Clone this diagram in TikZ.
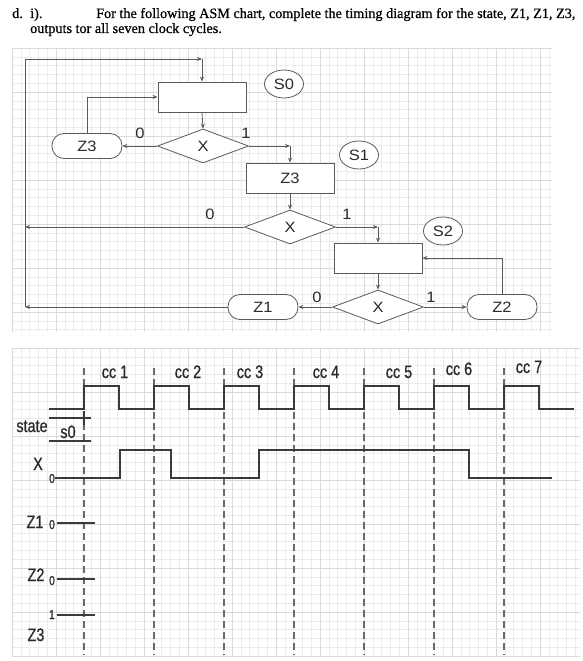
\documentclass[tikz,border=0pt]{standalone}
\usepackage{fontspec}
\setmainfont{Liberation Serif}
\newfontfamily\topfont[FakeBold=0.6]{Liberation Serif}
\newfontfamily\asmfont[FakeStretch=1.1]{Liberation Sans}
\newfontfamily\narrowfont[FakeStretch=0.8,FakeBold=0.8]{Liberation Sans}
\usetikzlibrary{shapes.geometric,arrows.meta}
\definecolor{asmgray}{HTML}{5A5A5A}
\definecolor{txt}{HTML}{2A2A2A}
\definecolor{wavec}{HTML}{3A3A3A}
\definecolor{dashc}{HTML}{6A6A6A}
\definecolor{gridminor}{HTML}{EBEBEB}
\definecolor{gridmajor}{HTML}{DADADA}
\begin{document}
\begin{tikzpicture}[x=1pt,y=-1pt,
  asmline/.style={draw=asmgray, line width=0.8pt},
  arr/.style={asmline, -{Stealth[length=5pt,width=4pt]}},
  asmtext/.style={font=\asmfont\fontsize{15}{15}\selectfont, text=txt},
  stbox/.style={draw=asmgray, line width=0.8pt, fill=white, minimum width=88pt, minimum height=30pt, inner sep=0pt, asmtext},
  dia/.style={diamond, draw=asmgray, line width=0.8pt, fill=white, minimum width=91pt, minimum height=34pt, inner sep=0pt, asmtext},
  oval/.style={draw=asmgray, line width=0.8pt, fill=white, rounded corners=12pt, minimum width=70pt, minimum height=25pt, inner sep=0pt, asmtext},
  slabel/.style={ellipse, draw=asmgray, line width=0.8pt, fill=white, minimum width=39pt, minimum height=28pt, inner sep=0pt, asmtext},
  branch/.style={inner sep=0pt, asmtext},
  wave/.style={draw=wavec, line width=1.4pt},
  clkdash/.style={draw=dashc, line width=1.2pt, dash pattern=on 7pt off 4pt},
  tlabel/.style={inner sep=0pt, anchor=base, text=txt, font=\narrowfont\fontsize{18}{18}\selectfont},
  tsmall/.style={inner sep=0pt, anchor=base, text=txt, font=\narrowfont\fontsize{13}{13}\selectfont},
  toptext/.style={inner sep=0pt, anchor=base west, text=black, font=\topfont\fontsize{14.2}{16}\selectfont}
]
\useasboundingbox (0,0) rectangle (582,661);
\fill[white] (0,0) rectangle (582,661);

% ---------- grids ----------
\foreach \i in {0,...,61} { \draw[gridminor, line width=0.5pt] ({12+8.8*\i},48) -- ({12+8.8*\i},332); }
\foreach \j in {0,...,32} { \draw[gridminor, line width=0.5pt] (12,{48+8.8*\j}) -- (552,{48+8.8*\j}); }
\foreach \i in {0,...,12} { \draw[gridmajor, line width=0.6pt] ({12+44*\i},48) -- ({12+44*\i},332); }
\foreach \j in {0,...,6} { \draw[gridmajor, line width=0.6pt] (12,{48+44*\j}) -- (552,{48+44*\j}); }

\foreach \i in {0,...,64} { \draw[gridminor, line width=0.5pt] ({12+8.8*\i},348) -- ({12+8.8*\i},657); }
\foreach \j in {0,...,35} { \draw[gridminor, line width=0.5pt] (12,{348+8.8*\j}) -- (580,{348+8.8*\j}); }
\foreach \i in {0,...,12} { \draw[gridmajor, line width=0.6pt] ({12+44*\i},348) -- ({12+44*\i},657); }
\foreach \j in {0,...,7} { \draw[gridmajor, line width=0.6pt] (12,{348+44*\j}) -- (580,{348+44*\j}); }

% ---------- top text ----------
\node[toptext] (ta) at (12,18) {d.};
\node[toptext] (tb) at (30,18) {i).};
\node[toptext] (tc) at (96,18) {For the following ASM chart, complete the timing diagram for the state, Z1, Z1, Z3,};
\node[toptext] (td) at (30,33) {outputs tor all seven clock cycles.};

% ---------- ASM chart ----------
\node[stbox] (s0) at (202,97) {};
\node[slabel] (l0) at (284,84) {S0};
\node[dia] (d1) at (203,146) {X};
\node[oval] (z3a) at (87,146) {Z3};
\node[stbox] (z3b) at (290,178) {Z3};
\node[slabel] (l1) at (359,155) {S1};
\node[dia] (d2) at (290,227) {X};
\node[stbox] (s2) at (378,258) {};
\node[slabel] (l2) at (443,231) {S2};
\node[dia] (d3) at (378,307) {X};
\node[oval] (z1) at (263,307) {Z1};
\node[oval] (z2) at (502,307) {Z2};

\node[branch] (b10) at (140,133) {0};
\node[branch] (b11) at (246,133) {1};
\node[branch] (b20) at (210,214) {0};
\node[branch] (b21) at (347,214) {1};
\node[branch] (b30) at (317,297) {0};
\node[branch] (b31) at (431,297) {1};

\coordinate (ltop) at (25,59);
\coordinate (lmid) at (25,227);
\coordinate (lbot) at (25,307);
\coordinate (c0) at (ltop -| s0.north);
\coordinate (c1) at (d1.east -| z3b.north);
\coordinate (c2) at (d2.east -| s2.north);

\draw[arr] (s0.south) -- (d1.north);
\draw[arr] (d1.west) -- (z3a.east);
\draw[arr] (z3a.north) |- (s0.west);
\draw[arr] (d1.east) -- (c1);
\draw[arr] (c1) -- (z3b.north);
\draw[arr] (z3b.south) -- (d2.north);
\draw[arr] (d2.west) -- (lmid);
\draw[arr] (d2.east) -- (c2);
\draw[arr] (c2) -- (s2.north);
\draw[arr] (s2.south) -- (d3.north);
\draw[arr] (d3.west) -- (z1.east);
\draw[arr] (z1.west) -- (lbot);
\draw[arr] (d3.east) -- (z2.west);
\draw[arr] (z2.north) |- (s2.east);
\draw[arr] (lbot) -- (ltop) -- (c0);
\draw[arr] (c0) -- (s0.north);

% ---------- timing diagram ----------
\foreach \x in {84,154,224,294,364,434,504} { \draw[clkdash] (\x,368) -- (\x,655); }

\draw[wave] (49,409) -- (84,409)
  \foreach \k in {0,...,6} { -- ({84+70*\k},386) -- ({119+70*\k},386) -- ({119+70*\k},409) -- ({154+70*\k},409) };

\node[tlabel] (cc1) at (115,378) {cc 1};
\node[tlabel] (cc2) at (188,378) {cc 2};
\node[tlabel] (cc3) at (250,378) {cc 3};
\node[tlabel] (cc4) at (326,378) {cc 4};
\node[tlabel] (cc5) at (399,378) {cc 5};
\node[tlabel] (cc6) at (459,375) {cc 6};
\node[tlabel] (cc7) at (529,373) {cc 7};

\node[tlabel] (st) at (32,432) {state};
\draw[wave, line width=1.2pt] (49,418) -- (91,418);
\draw[wave, line width=1.2pt] (49,441) -- (91,441);
\draw[wave, line width=1.2pt] (84,411) -- (84,425);
\node[tlabel] (s0t) at (68,438) {s0};

\node[tlabel] (xl) at (38,470) {X};
\node[tsmall] (x0) at (52,483) {0};
\draw[wave] (55,478) -- (120,478) -- (120,450) -- (171,450) -- (171,478) -- (259,478) -- (259,450) -- (469,450) -- (469,478) -- (552,478);

\node[tlabel] (z1l) at (35,528) {Z1};
\node[tsmall] (z10) at (52,529) {0};
\draw[wave, line width=1.2pt] (57,523) -- (95,523);

\node[tlabel] (z2l) at (36,581) {Z2};
\node[tsmall] (z20) at (52,585) {0};
\draw[wave, line width=1.2pt] (57,579) -- (95,579);

\node[tsmall] (z31) at (52,619) {1};
\draw[wave, line width=1.2pt] (57,615) -- (95,615);
\node[tlabel] (z3l) at (36,641) {Z3};
\end{tikzpicture}
\end{document}
